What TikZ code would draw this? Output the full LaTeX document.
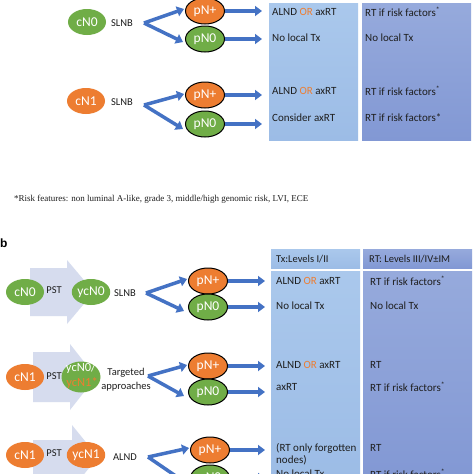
\documentclass[tikz,border=0pt]{standalone}
\usepackage{fontspec}
\setmainfont{Carlito}
\newfontfamily\timesf{Liberation Serif}
\newfontfamily\arialf{Liberation Sans}
\usetikzlibrary{shapes.geometric,arrows.meta}
\definecolor{ogreen}{RGB}{112,173,71}
\definecolor{oorange}{RGB}{237,125,49}
\definecolor{oblue}{RGB}{68,114,196}
\definecolor{boxLt}{RGB}{170,200,236}
\definecolor{boxLb}{RGB}{156,188,230}
\definecolor{boxRt}{RGB}{150,170,220}
\definecolor{boxRb}{RGB}{130,152,212}
\definecolor{parrow}{RGB}{210,217,237}
\definecolor{txt}{RGB}{30,30,30}
\tikzset{
  cnode/.style={ellipse, minimum width=38pt, minimum height=26pt, inner sep=0pt, text=white, font=\fontsize{13.5}{14}\selectfont},
  gnode/.style={cnode, fill=ogreen},
  onode/.style={cnode, fill=oorange},
  pnode/.style={draw=black, line width=1pt, minimum width=39pt},
  lbl/.style={text=txt, inner sep=0pt, font=\fontsize{10.5}{12.5}\selectfont},
  btext/.style={anchor=west, text=txt, inner sep=0pt, font=\fontsize{11}{13}\selectfont},
  flow/.style={draw=oblue, line width=3.5pt, -{Triangle[length=7pt,width=10pt]}},
  boxleft/.style={top color=boxLt, bottom color=boxLb},
  boxright/.style={top color=boxRt, bottom color=boxRb},
  pstarrow/.style={fill=parrow, opacity=0.9},
}
\newcommand{\ORtxt}{\textcolor{oorange}{OR}}
\newcommand{\rsk}{RT if risk factors\textsuperscript{*}}
\begin{document}
\begin{tikzpicture}[x=1pt,y=-1pt]
\useasboundingbox (0,0) rectangle (474,474);
\clip (0,0) rectangle (474,474);
\fill[white] (0,0) rectangle (474,474);

% ---------- section a ----------
\fill[boxleft] (269,3) rectangle (358,140);
\fill[boxright] (362,3) rectangle (471,140);
\coordinate (xa) at (262,0);

\node[gnode] (cN0a) at (87,22) {cN0};
\node[lbl] (slnba1) at (122,23) {SLNB};
\coordinate (fa1) at (144,23);
\node[onode,pnode] (pa1) at (205,11) {pN+};
\node[gnode,pnode] (pa2) at (205,39) {pN0};
\draw[flow] (fa1) -- ([xshift=-1pt,yshift=2pt]pa1.west);
\draw[flow] (fa1) -- ([xshift=-2pt,yshift=-3pt]pa2.west);
\draw[flow] (pa1.east) -- (pa1.east -| xa);
\draw[flow] (pa2.east) -- (pa2.east -| xa);

\node[onode] (cN1a) at (86,101) {cN1};
\node[lbl] (slnba2) at (122,102) {SLNB};
\coordinate (fa2) at (144,105);
\node[onode,pnode] (pa3) at (205,95) {pN+};
\node[gnode,pnode] (pa4) at (205,124) {pN0};
\draw[flow] (fa2) -- ([xshift=-1pt,yshift=1pt]pa3.west);
\draw[flow] (fa2) -- ([xshift=-2pt,yshift=-5pt]pa4.west);
\draw[flow] (pa3.east) -- (pa3.east -| xa);
\draw[flow] (pa4.east) -- (pa4.east -| xa);

\node[btext] (ta1) at (272,12) {ALND \ORtxt{} axRT};
\node[btext] (ta2) at (272,38) {No local Tx};
\node[btext] (ta3) at (272,91) {ALND \ORtxt{} axRT};
\node[btext] (ta4) at (272,118) {Consider axRT};
\node[btext] (ra1) at (365,12) {\rsk};
\node[btext] (ra2) at (365,38) {No local Tx};
\node[btext] (ra3) at (365,91) {\rsk};
\node[btext] (ra4) at (365,118) {RT if risk factors*};

\node[anchor=west, inner sep=0pt, text=txt, font=\timesf\fontsize{9}{10}\selectfont] (foot) at (14,199)
  {*Risk features: non luminal A-like, grade 3, middle/high genomic risk, LVI, ECE};

% ---------- section b ----------
\node[anchor=west, inner sep=0pt, font=\arialf\bfseries\fontsize{12}{12}\selectfont] (blab) at (0,243) {b};

\fill[boxleft] (271,249) rectangle (360,268);
\fill[boxright] (363,249) rectangle (472,268);
\fill[boxleft] (271,271) rectangle (360,480);
\fill[boxright] (363,271) rectangle (472,480);
\node[btext, font=\fontsize{10.5}{12}\selectfont] (h1) at (276,259) {Tx:Levels I/II};
\node[btext, font=\fontsize{10.5}{12}\selectfont] (h2) at (369,259) {RT: Levels III/IV±IM};
\coordinate (xb) at (265,0);

% row b1
\fill[pstarrow] (30,268) -- (67,268) -- (67,260) -- (94,292) -- (67,324) -- (67,316) -- (30,316) -- cycle;
\node[gnode] (cN0b) at (25,292) {cN0};
\node[lbl] (pst1) at (54,290) {PST};
\node[gnode] (ycN0b) at (91,292) {ycN0};
\node[lbl] (slnbb) at (125,293) {SLNB};
\coordinate (fb1) at (146,293);
\node[onode,pnode] (pb1) at (208,281) {pN+};
\node[gnode,pnode] (pb2) at (208,307) {pN0};
\draw[flow] (fb1) -- ([xshift=-1pt,yshift=2pt]pb1.west);
\draw[flow] (fb1) -- ([xshift=-4pt,yshift=-4pt]pb2.west);
\draw[flow] (pb1.east) -- (pb1.east -| xb);
\draw[flow] (pb2.east) -- (pb2.east -| xb);
\node[btext] (tb1) at (276,281) {ALND \ORtxt{} axRT};
\node[btext] (tb2) at (276,306) {No local Tx};
\node[btext] (rb1) at (370,281) {\rsk};
\node[btext] (rb2) at (370,306) {No local Tx};

% row b2
\fill[pstarrow] (33,352) -- (70,352) -- (70,344) -- (96,377) -- (70,410) -- (70,402) -- (33,402) -- cycle;
\node[onode] (cN1b) at (25,377) {cN1};
\node[lbl] (pst2) at (54,376) {PST};
\node[gnode, minimum height=31pt, minimum width=39pt] (ycN01) at (81,377) {};
\node[text=white, inner sep=0pt, font=\fontsize{12.5}{12}\selectfont] (ycn0t) at (81,368) {ycN0/};
\node[text=oorange, inner sep=0pt, font=\fontsize{12.5}{12}\selectfont] (ycn1t) at (82,383) {ycN1*};
\node[lbl, align=center, font=\fontsize{10.5}{14}\selectfont] (targ) at (126,380) {Targeted\\approaches};
\coordinate (fb2) at (148,376);
\node[onode,pnode] (pb3) at (208,366) {pN+};
\node[gnode,pnode] (pb4) at (208,392) {pN0};
\draw[flow] (fb2) -- ([xshift=-1pt,yshift=1pt]pb3.west);
\draw[flow] (fb2) -- ([xshift=-4pt,yshift=-4pt]pb4.west);
\draw[flow] (pb3.east) -- (pb3.east -| xb);
\draw[flow] (pb4.east) -- (pb4.east -| xb);
\node[btext] (tb3) at (276,365) {ALND \ORtxt{} axRT};
\node[btext] (tb4) at (276,387) {axRT};
\node[btext] (rb3) at (370,365) {RT};
\node[btext] (rb4) at (370,387) {\rsk};

% row b3
\fill[pstarrow] (33,440) -- (72,440) -- (72,425) -- (98,457) -- (72,489) -- (72,478) -- (33,478) -- cycle;
\node[onode] (cN1c) at (25,455) {cN1};
\node[lbl] (pst3) at (54,453) {PST};
\node[onode] (ycN1c) at (86,455) {ycN1};
\node[lbl] (alnd) at (125,457) {ALND};
\coordinate (fb3) at (148,457);
\node[onode,pnode] (pb5) at (210,450) {pN+};
\node[gnode,pnode] (pb6) at (210,478) {pN0};
\draw[flow] (fb3) -- ([xshift=-1pt,yshift=2pt]pb5.west);
\draw[flow] (fb3) -- ([xshift=-4pt,yshift=-5pt]pb6.west);
\draw[flow] (pb5.east) -- (pb5.east -| xb);
\draw[flow] (pb6.east) -- (pb6.east -| xb);
\node[btext] (tb5) at (276,448) {(RT only forgotten};
\node[btext] (tb6) at (276,460) {nodes)};
\node[btext] (tb7) at (276,474) {No local Tx};
\node[btext] (rb5) at (370,448) {RT};
\node[btext] (rb6) at (370,474) {\rsk};
\end{tikzpicture}
\end{document}
